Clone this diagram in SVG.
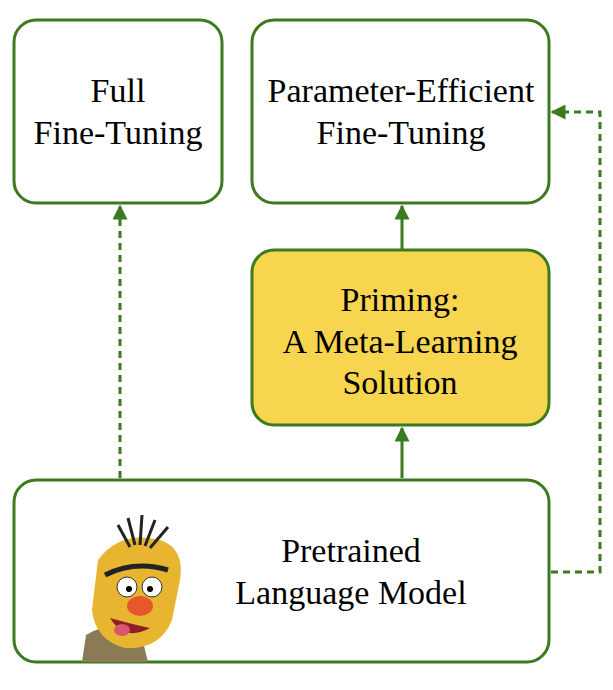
<svg xmlns="http://www.w3.org/2000/svg" width="613" height="690" viewBox="0 0 613 690">
<defs>
<style>
.box{fill:#fff;stroke:#3b7a1f;stroke-width:3}
.t{font-family:"Liberation Serif",serif;font-size:34px;fill:#000;text-anchor:middle}
.c{stroke:#3b7a1f;stroke-width:3;fill:none}
.d{stroke-dasharray:7 5}
</style>
<marker id="ah" viewBox="0 0 10 10" refX="9" refY="5" markerWidth="5" markerHeight="5" orient="auto"><path d="M0,0L10,5L0,10z" fill="#3b7a1f"/></marker>
</defs>
<rect width="613" height="690" fill="#fff"/>
<g id="connectors">
<path class="c d" d="M120,478V206" marker-end="url(#ah)"/>
<path class="c" d="M402,478V428" marker-end="url(#ah)"/>
<path class="c" d="M402,249V206" marker-end="url(#ah)"/>
<path class="c d" d="M551,572H600V112H552" marker-end="url(#ah)"/>
</g>
<g id="full">
<rect class="box" x="14" y="20" width="208" height="183" rx="22"/>
<text class="t" x="118" y="102">Full</text>
<text class="t" x="118" y="144">Fine-Tuning</text>
</g>
<g id="peft">
<rect class="box" x="252" y="20" width="297" height="183" rx="22"/>
<text class="t" x="401" y="102">Parameter-Efficient</text>
<text class="t" x="401" y="144">Fine-Tuning</text>
</g>
<g id="priming">
<rect class="box" x="252" y="250" width="297" height="175" rx="22" style="fill:#f8d54e"/>
<text class="t" x="400" y="311">Priming:</text>
<text class="t" x="400" y="353">A Meta-Learning</text>
<text class="t" x="400" y="394">Solution</text>
</g>
<g id="plm">
<rect class="box" x="14" y="480" width="535" height="182" rx="22"/>
<text class="t" x="351" y="562">Pretrained</text>
<text class="t" x="351" y="604">Language Model</text>
<g id="bert">
<path d="M82,662 L86,635 Q110,620 140,630 L148,662Z" fill="#8a7a55"/>
<path d="M98,560 Q120,530 160,540 Q185,548 180,580 L172,620 Q160,650 125,648 Q95,640 92,610Z" fill="#e8b530"/>
<g stroke="#222" stroke-width="3">
<path d="M135,545L128,518M140,545L142,515M145,546L155,520M150,548L168,527M130,547L118,525"/>
</g>
<path d="M105,575 Q135,560 168,570" stroke="#222" stroke-width="5" fill="none"/>
<circle cx="127" cy="587" r="10" fill="#fff" stroke="#333"/>
<circle cx="152" cy="587" r="10" fill="#fff" stroke="#333"/>
<circle cx="129" cy="589" r="3" fill="#000"/>
<circle cx="150" cy="589" r="3" fill="#000"/>
<ellipse cx="140" cy="606" rx="13" ry="10" fill="#e8572a"/>
<path d="M110,618 Q125,642 150,628 Q135,625 110,618Z" fill="#8e1d2a"/>
<ellipse cx="122" cy="630" rx="8" ry="6" fill="#d7576a"/>
</g>
</g>
</svg>
